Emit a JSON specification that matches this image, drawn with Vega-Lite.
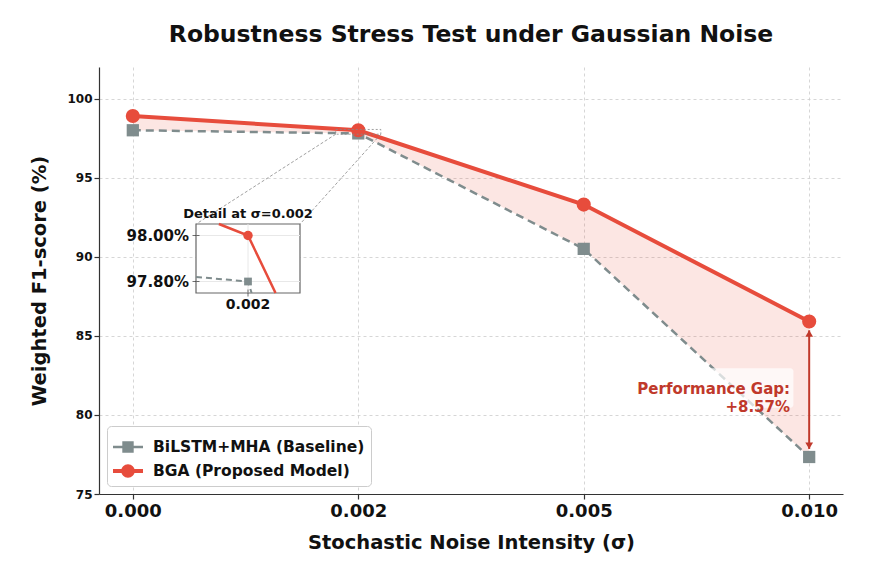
{
  "$schema": "https://vega.github.io/schema/vega-lite/v6.json",
  "width": 744,
  "height": 427,
  "autosize": "none",
  "padding": {"left": 99, "top": 67, "right": 33, "bottom": 74},
  "background": "white",
  "title": {
    "text": "Robustness Stress Test under Gaussian Noise",
    "fontSize": 23.5,
    "fontWeight": "bold",
    "anchor": "middle",
    "offset": 21,
    "color": "#111111"
  },
  "datasets": {
    "scores": [
      {"i": 0, "baseline": 98.0, "bga": 98.9},
      {"i": 1, "baseline": 97.8, "bga": 98.0},
      {"i": 2, "baseline": 90.5, "bga": 93.3},
      {"i": 3, "baseline": 77.34, "bga": 85.91}
    ],
    "models": [
      {"model": "BiLSTM+MHA (Baseline)"},
      {"model": "BGA (Proposed Model)"}
    ],
    "inset_bga": [
      {"ix": 0.944, "iy": 98.05},
      {"ix": 1.0, "iy": 98.0},
      {"ix": 1.053, "iy": 97.75}
    ],
    "inset_base": [
      {"ix": 0.9, "iy": 97.82},
      {"ix": 1.0, "iy": 97.8},
      {"ix": 1.007, "iy": 97.75}
    ]
  },
  "layer": [
    {
      "layer": [
        {
          "data": {"name": "scores"},
          "mark": {"type": "area", "color": "#e74c3c", "opacity": 0.14},
          "encoding": {
            "x": {
              "field": "i",
              "type": "quantitative",
              "scale": {"domain": [-0.15, 3.15], "nice": false, "zero": false},
              "axis": {
                "title": "Stochastic Noise Intensity (σ)",
                "values": [0, 1, 2, 3],
                "labelExpr": "['0.000','0.002','0.005','0.010'][datum.value]",
                "labelFontSize": 18,
                "labelPadding": 3,
                "titlePadding": 13
              }
            },
            "y": {
              "field": "bga",
              "type": "quantitative",
              "scale": {"domain": [75, 102], "nice": false, "zero": false},
              "axis": {
                "title": "Weighted F1-score (%)",
                "values": [75, 80, 85, 90, 95, 100],
                "labelFontSize": 12,
                "titlePadding": 17
              }
            },
            "y2": {"field": "baseline"}
          }
        },
        {
          "data": {"name": "scores"},
          "mark": {"type": "line", "color": "#7f8c8d", "strokeWidth": 2.5, "strokeDash": [8, 5]},
          "encoding": {
            "x": {"field": "i", "type": "quantitative"},
            "y": {"field": "baseline", "type": "quantitative"}
          }
        },
        {
          "data": {"name": "scores"},
          "mark": {"type": "line", "color": "#e74c3c", "strokeWidth": 4},
          "encoding": {
            "x": {"field": "i", "type": "quantitative"},
            "y": {"field": "bga", "type": "quantitative"}
          }
        },
        {
          "data": {"name": "scores"},
          "mark": {"type": "point", "shape": "square", "filled": true, "size": 150, "color": "#7f8c8d", "opacity": 1},
          "encoding": {
            "x": {"field": "i", "type": "quantitative"},
            "y": {"field": "baseline", "type": "quantitative"}
          }
        },
        {
          "data": {"name": "scores"},
          "mark": {"type": "point", "shape": "circle", "filled": true, "size": 200, "color": "#e74c3c", "opacity": 1},
          "encoding": {
            "x": {"field": "i", "type": "quantitative"},
            "y": {"field": "bga", "type": "quantitative"}
          }
        },
        {
          "data": {"values": [{"x1": 0.9, "x2": 1.1, "y1": 97.75, "y2": 98.05}]},
          "mark": {"type": "rect", "fillOpacity": 0, "stroke": "#888888", "strokeWidth": 0.8, "strokeDash": [2, 2]},
          "encoding": {
            "x": {"field": "x1", "type": "quantitative"},
            "x2": {"field": "x2"},
            "y": {"field": "y1", "type": "quantitative"},
            "y2": {"field": "y2"}
          }
        },
        {
          "data": {"values": [
            {"x1": 0.9, "y1": 97.75, "x2": 0.283, "y2": 92.09},
            {"x1": 1.1, "y1": 97.75, "x2": 0.743, "y2": 92.09}
          ]},
          "mark": {"type": "rule", "color": "#888888", "strokeWidth": 0.8, "strokeDash": [3, 2]},
          "encoding": {
            "x": {"field": "x1", "type": "quantitative"},
            "x2": {"field": "x2"},
            "y": {"field": "y1", "type": "quantitative"},
            "y2": {"field": "y2"}
          }
        },
        {
          "data": {"values": [{"x1": 2.18, "x2": 2.93, "y1": 80.45, "y2": 82.95}]},
          "mark": {"type": "rect", "fill": "white", "opacity": 0.7, "cornerRadius": 3},
          "encoding": {
            "x": {"field": "x1", "type": "quantitative"},
            "x2": {"field": "x2"},
            "y": {"field": "y1", "type": "quantitative"},
            "y2": {"field": "y2"}
          }
        },
        {
          "data": {"values": [{"i": 3, "top": 85.35, "bottom": 77.85}]},
          "mark": {"type": "rule", "color": "#c0392b", "strokeWidth": 2},
          "encoding": {
            "x": {"field": "i", "type": "quantitative"},
            "y": {"field": "top", "type": "quantitative"},
            "y2": {"field": "bottom"}
          }
        },
        {
          "data": {"values": [{"i": 3, "tip": 85.15}]},
          "mark": {"type": "point", "shape": "triangle-up", "filled": true, "size": 60, "color": "#c0392b", "opacity": 1},
          "encoding": {
            "x": {"field": "i", "type": "quantitative"},
            "y": {"field": "tip", "type": "quantitative"}
          }
        },
        {
          "data": {"values": [{"i": 3, "tip": 78.05}]},
          "mark": {"type": "point", "shape": "triangle-down", "filled": true, "size": 60, "color": "#c0392b", "opacity": 1},
          "encoding": {
            "x": {"field": "i", "type": "quantitative"},
            "y": {"field": "tip", "type": "quantitative"}
          }
        },
        {
          "data": {"values": [{"i": 2.915, "y": 81.65, "label": "Performance Gap:\n+8.57%"}]},
          "mark": {"type": "text", "align": "right", "baseline": "middle", "lineBreak": "\n", "fontSize": 15, "fontWeight": "bold", "color": "#c0392b", "lineHeight": 18},
          "encoding": {
            "x": {"field": "i", "type": "quantitative"},
            "y": {"field": "y", "type": "quantitative"},
            "text": {"field": "label"}
          }
        },
        {
          "data": {"name": "models"},
          "mark": {"type": "point", "filled": true, "opacity": 0},
          "encoding": {
            "color": {
              "field": "model",
              "type": "nominal",
              "scale": {"domain": ["BiLSTM+MHA (Baseline)", "BGA (Proposed Model)"], "range": ["#7f8c8d", "#e74c3c"]},
              "legend": {"title": null}
            },
            "shape": {
              "field": "model",
              "type": "nominal",
              "scale": {
                "domain": ["BiLSTM+MHA (Baseline)", "BGA (Proposed Model)"],
                "range": [
                  "M-1,-0.08H1V0.08H-1Z M-0.38,-0.38H0.38V0.38H-0.38Z",
                  "M-1,-0.13H1V0.13H-1Z M-0.45,0A0.45,0.45 0 1,1 0.45,0A0.45,0.45 0 1,1 -0.45,0Z"
                ]
              },
              "legend": {"title": null}
            }
          }
        }
      ]
    },
    {
      "layer": [
        {
          "data": {"values": [{"ix": 0.9, "ix2": 1.1, "iy": 97.75, "iy2": 98.05}]},
          "mark": {"type": "rect", "fill": "white", "stroke": "#666666", "strokeWidth": 1.2},
          "encoding": {
            "x": {
              "field": "ix",
              "type": "quantitative",
              "scale": {"domain": [0.9, 1.1], "range": [97, 201], "nice": false, "zero": false},
              "axis": null
            },
            "x2": {"field": "ix2"},
            "y": {
              "field": "iy",
              "type": "quantitative",
              "scale": {"domain": [97.75, 98.05], "range": [226, 157], "nice": false, "zero": false},
              "axis": null
            },
            "y2": {"field": "iy2"}
          }
        },
        {
          "data": {"values": [
            {"ix": 0.9, "ix2": 1.1, "iy": 98.0, "iy2": 98.0},
            {"ix": 0.9, "ix2": 1.1, "iy": 97.8, "iy2": 97.8},
            {"ix": 1.0, "ix2": 1.0, "iy": 97.75, "iy2": 98.05}
          ]},
          "mark": {"type": "rule", "color": "#e8e8e8", "strokeWidth": 1},
          "encoding": {
            "x": {"field": "ix", "type": "quantitative"},
            "x2": {"field": "ix2"},
            "y": {"field": "iy", "type": "quantitative"},
            "y2": {"field": "iy2"}
          }
        },
        {
          "data": {"name": "inset_base"},
          "mark": {"type": "line", "color": "#7f8c8d", "strokeWidth": 2, "strokeDash": [6, 4]},
          "encoding": {
            "x": {"field": "ix", "type": "quantitative"},
            "y": {"field": "iy", "type": "quantitative"}
          }
        },
        {
          "data": {"name": "inset_bga"},
          "mark": {"type": "line", "color": "#e74c3c", "strokeWidth": 2.5},
          "encoding": {
            "x": {"field": "ix", "type": "quantitative"},
            "y": {"field": "iy", "type": "quantitative"}
          }
        },
        {
          "data": {"values": [{"ix": 1.0, "iy": 97.8}]},
          "mark": {"type": "point", "shape": "square", "filled": true, "size": 60, "color": "#7f8c8d", "opacity": 1},
          "encoding": {
            "x": {"field": "ix", "type": "quantitative"},
            "y": {"field": "iy", "type": "quantitative"}
          }
        },
        {
          "data": {"values": [{"ix": 1.0, "iy": 98.0}]},
          "mark": {"type": "point", "shape": "circle", "filled": true, "size": 90, "color": "#e74c3c", "opacity": 1},
          "encoding": {
            "x": {"field": "ix", "type": "quantitative"},
            "y": {"field": "iy", "type": "quantitative"}
          }
        },
        {
          "data": {"values": [{"ix": 0.9, "iy": 98.0}, {"ix": 0.9, "iy": 97.8}]},
          "mark": {"type": "tick", "orient": "horizontal", "size": 7, "thickness": 1, "color": "#333333"},
          "encoding": {
            "x": {"field": "ix", "type": "quantitative"},
            "y": {"field": "iy", "type": "quantitative"}
          }
        },
        {
          "data": {"values": [{"ix": 1.0, "iy": 97.75}]},
          "mark": {"type": "tick", "orient": "vertical", "size": 7, "thickness": 1, "color": "#333333"},
          "encoding": {
            "x": {"field": "ix", "type": "quantitative"},
            "y": {"field": "iy", "type": "quantitative"}
          }
        },
        {
          "data": {"values": [
            {"ix": 0.9, "iy": 98.0, "label": "98.00%"},
            {"ix": 0.9, "iy": 97.8, "label": "97.80%"}
          ]},
          "mark": {"type": "text", "align": "right", "baseline": "middle", "dx": -7, "fontSize": 15, "fontWeight": "bold", "color": "#111111"},
          "encoding": {
            "x": {"field": "ix", "type": "quantitative"},
            "y": {"field": "iy", "type": "quantitative"},
            "text": {"field": "label"}
          }
        },
        {
          "data": {"values": [{"ix": 1.0, "iy": 97.75, "label": "0.002"}]},
          "mark": {"type": "text", "align": "center", "baseline": "top", "dy": 5, "fontSize": 14, "fontWeight": "bold", "color": "#111111"},
          "encoding": {
            "x": {"field": "ix", "type": "quantitative"},
            "y": {"field": "iy", "type": "quantitative"},
            "text": {"field": "label"}
          }
        },
        {
          "data": {"values": [{"ix": 1.0, "iy": 98.05, "label": "Detail at σ=0.002"}]},
          "mark": {"type": "text", "align": "center", "baseline": "bottom", "dy": -3, "fontSize": 13, "fontWeight": "bold", "color": "#111111"},
          "encoding": {
            "x": {"field": "ix", "type": "quantitative"},
            "y": {"field": "iy", "type": "quantitative"},
            "text": {"field": "label"}
          }
        }
      ]
    }
  ],
  "resolve": {"scale": {"x": "independent", "y": "independent"}},
  "config": {
    "font": "DejaVu Sans",
    "view": {"stroke": null},
    "axis": {
      "labelFont": "DejaVu Sans",
      "labelFontWeight": "bold",
      "labelColor": "#111111",
      "titleFont": "DejaVu Sans",
      "titleFontWeight": "bold",
      "titleFontSize": 19.5,
      "titleColor": "#111111",
      "grid": true,
      "gridColor": "#cccccc",
      "gridDash": [3, 3],
      "gridWidth": 0.8,
      "domainColor": "#333333",
      "domainWidth": 1.2,
      "tickColor": "#333333",
      "tickSize": 5,
      "tickWidth": 1.2
    },
    "legend": {
      "orient": "bottom-left",
      "offset": 8,
      "fillColor": "white",
      "strokeColor": "#cccccc",
      "cornerRadius": 4,
      "padding": 6,
      "labelFont": "DejaVu Sans",
      "labelFontSize": 15.5,
      "labelFontWeight": "bold",
      "labelColor": "#111111",
      "labelOffset": 10,
      "labelLimit": 0,
      "symbolSize": 900,
      "symbolOpacity": 1,
      "symbolStrokeWidth": 0,
      "rowPadding": -9
    }
  }
}
